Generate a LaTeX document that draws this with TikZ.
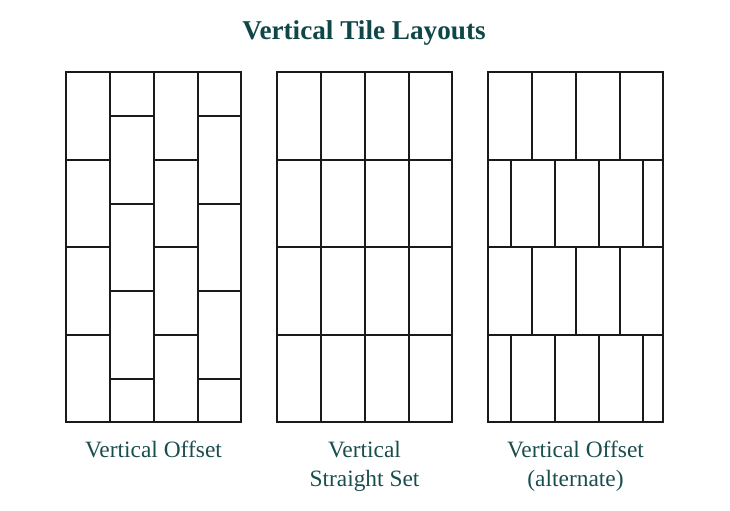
\documentclass[tikz,border=0pt]{standalone}
\usepackage{fontspec}
\setmainfont{Liberation Serif}
\definecolor{titlecol}{HTML}{0F4749}
\definecolor{labelcol}{HTML}{1A4D4E}
\definecolor{linecol}{HTML}{1A1A1A}
\begin{document}
\begin{tikzpicture}[x=1bp,y=-1bp,
  tile/.style={line width=2bp, draw=linecol, line cap=rect},
  frame/.style={line width=2bp, draw=linecol},
  lbl/.style={text=labelcol, font=\fontsize{23.5}{28.7}\selectfont, align=center, anchor=base, inner sep=0pt},
  ttl/.style={text=titlecol, font=\fontsize{27.3}{32}\selectfont\bfseries, anchor=base, inner sep=0pt}]
\useasboundingbox (0,0) rectangle (730,511);
\node[ttl] (title) at (364,39.5) {Vertical Tile Layouts};
% ---------- left: vertical offset ----------
\foreach \x in {110,154,198} \draw[tile] (\x,72) -- (\x,422);
\foreach \y in {160,247,335} {
  \draw[tile] (66,\y) -- (110,\y);
  \draw[tile] (154,\y) -- (198,\y);
}
\foreach \y in {116,204,291,379} {
  \draw[tile] (110,\y) -- (154,\y);
  \draw[tile] (198,\y) -- (241,\y);
}
\draw[frame] (66,72) rectangle (241,422);
% ---------- middle: straight set ----------
\foreach \x in {321,365,409} \draw[tile] (\x,72) -- (\x,422);
\foreach \y in {160,247,335} \draw[tile] (277,\y) -- (452,\y);
\draw[frame] (277,72) rectangle (452,422);
% ---------- right: alternate offset ----------
\foreach \y in {160,247,335} \draw[tile] (488,\y) -- (663,\y);
\foreach \x in {532,576,620} {
  \draw[tile] (\x,72) -- (\x,160);
  \draw[tile] (\x,247) -- (\x,335);
}
\foreach \x in {511,555,599,643} {
  \draw[tile] (\x,160) -- (\x,247);
  \draw[tile] (\x,335) -- (\x,422);
}
\draw[frame] (488,72) rectangle (663,422);
% ---------- labels ----------
\node[lbl] (l1) at (153.5,457.3) {Vertical Offset};
\node[lbl] (l2) at (364.5,486) {Vertical\\Straight Set};
\node[lbl] (l3) at (575.5,486) {Vertical Offset\\(alternate)};
\end{tikzpicture}
\end{document}
